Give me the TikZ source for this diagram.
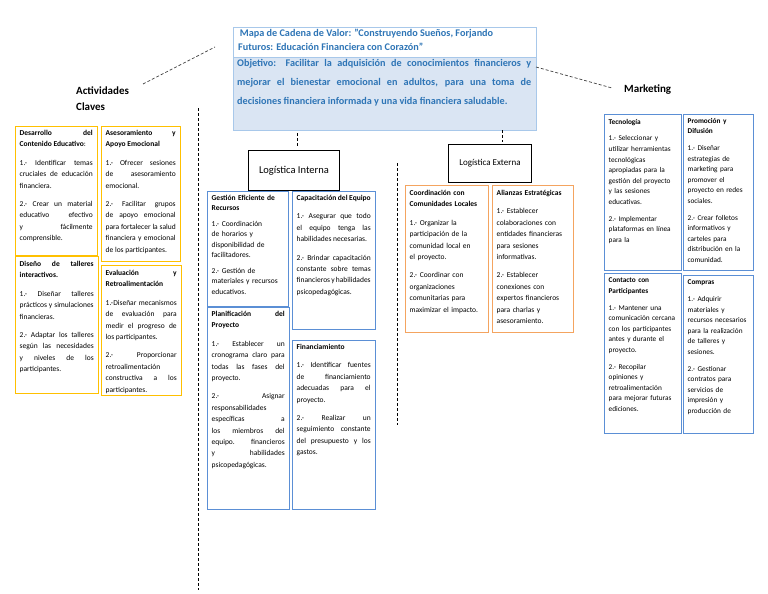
\documentclass[tikz,border=0pt]{standalone}
\usepackage{fontspec}
\setmainfont{Carlito}
\hyphenpenalty=10000 \exhyphenpenalty=10000
\begin{document}
\begin{tikzpicture}[x=1pt,y=-1pt,
  bx/.style={draw=#1,line width=1pt,inner sep=0pt,anchor=north west},
  tx/.style={anchor=north west,inner sep=0pt,align=justify,font=\fontsize{7.5}{11.4}\selectfont},
  lg/.style={draw=black,line width=0.9pt,inner sep=0pt,anchor=north west,font=\fontsize{10.5}{12}\selectfont},
  dl/.style={densely dashed,line width=0.7pt,black!75}]
\definecolor{yel}{HTML}{FFC000}\definecolor{blu}{HTML}{5B8FD5}\definecolor{ora}{HTML}{F4A460}
\definecolor{tit}{HTML}{2E75B6}\definecolor{lb}{HTML}{DAE5F3}\definecolor{lbb}{HTML}{A8C8EA}
\useasboundingbox (0,0) rectangle (768,594);
% title
\node[draw=lbb,fill=white,line width=0.8pt,minimum width=303pt,minimum height=30pt,inner sep=0pt,anchor=north west] (t1) at (233,27) {};
\node[draw=lbb,fill=lb,line width=0.8pt,minimum width=303pt,minimum height=73pt,inner sep=0pt,anchor=north west] (t2) at (233,57) {};
\node[anchor=north west,inner sep=0pt,text=tit,font=\bfseries\fontsize{10.2}{14}\selectfont,align=left] (tt) at (238,29) {\,Mapa de Cadena de Valor: "Construyendo Sueños, Forjando\\Futuros: Educación Financiera con Corazón"};
\node[anchor=north west,inner sep=0pt,text=tit,font=\bfseries\fontsize{10.2}{19}\selectfont,align=justify,text width=294pt] (to) at (237,59) {Objetivo: Facilitar la adquisición de conocimientos financieros y mejorar el bienestar emocional en adultos, para una toma de decisiones financiera informada y una vida financiera saludable.};
% headings
\node[anchor=north west,inner sep=0pt,font=\bfseries\fontsize{11}{16}\selectfont,align=left] (ac) at (76,87) {Actividades\\Claves};
\node[anchor=north west,inner sep=0pt,font=\bfseries\fontsize{11}{12}\selectfont] (mk) at (624,85) {Marketing};
\coordinate (d1a) at (143,84); \coordinate (d1b) at (215,47);
\coordinate (d2a) at (536,67); \coordinate (d2b) at (612,88);
\draw[dl] (d1a)--(d1b); \draw[dl] (d2a)--(d2b);
\draw[densely dashed,line width=0.6pt] (198,108)--(198,590);
\draw[densely dashed,line width=0.6pt] (297,133)--(297,146);
\draw[densely dashed,line width=0.6pt] (502,130)--(502,142);
\draw[densely dashed,line width=0.6pt] (397,163)--(397,425);
\draw[densely dashed,line width=0.6pt] (604,163)--(604,200);
\node[lg,minimum width=91pt,minimum height=40pt] (li) at (248,150) {Logística Interna};
\node[lg,minimum width=83pt,minimum height=38pt,font=\fontsize{9}{10}\selectfont] (le) at (448,144) {Logística Externa};
\newcommand{\bxx}[9]{\node[bx=#1,minimum width=#4pt,minimum height=#5pt] (#6) at (#2,#3) {};
 \node[tx,#8,text width=#4pt-9pt] (#6t) at ([xshift=4.5pt,yshift=-#7pt]#6.north west) {#9};}
% yellow
\bxx{yel}{15}{126}{82}{129}{a1}{4}{}{\textbf{Desarrollo del Contenido Educativo}:\\[7pt]1.- Identificar temas cruciales de educación financiera.\\[7pt]2.- Crear un material educativo efectivo y fácilmente comprensible.}
\bxx{yel}{101}{126}{79}{135}{a2}{4}{}{\textbf{Asesoramiento y Apoyo Emocional}\\[7pt]1.- Ofrecer sesiones de asesoramiento emocional.\\[7pt]2.- Facilitar grupos de apoyo emocional para fortalecer la salud financiera y emocional de los participantes.}
\bxx{yel}{15}{256}{83}{137}{a3}{5}{}{\textbf{Diseño de talleres interactivos.}\\[7pt]1.- Diseñar talleres prácticos y simulaciones financieras.\\[7pt]2.- Adaptar los talleres según las necesidades y niveles de los participantes.}
\bxx{yel}{101}{265}{80}{130}{a4}{5}{}{\textbf{Evaluación y Retroalimentación}\\[7pt]1.-Diseñar mecanismos de evaluación para medir el progreso de los participantes.\\[7pt]2.- Proporcionar retroalimentación constructiva a los participantes.}
% blue interna
\bxx{blu}{207}{191}{81}{115}{b1}{4}{align=left,font=\fontsize{7.5}{10.5}\selectfont}{\textbf{Gestión Eficiente de Recursos}\\[5pt]1.- Coordinación de horarios y disponibilidad de facilitadores.\\[5pt]2.- Gestión de materiales y recursos educativos.}
\bxx{blu}{292}{191}{83}{138}{b2}{4}{}{\textbf{Capacitación del Equipo}\\[7pt]1.- Asegurar que todo el equipo tenga las habilidades necesarias.\\[7pt]2.- Brindar capacitación constante sobre temas financieros y habilidades psicopedagógicas.}
\bxx{blu}{207}{307}{82}{202}{b3}{4}{}{\textbf{Planificación del Proyecto}\\[7pt]1.- Establecer un cronograma claro para todas las fases del proyecto.\\[7pt]2.- Asignar responsabilidades específicas a los miembros del equipo. financieros y habilidades psicopedagógicas.}
\bxx{blu}{292}{340}{83}{169}{b4}{4}{}{\textbf{Financiamiento}\\[7pt]1.- Identificar fuentes de financiamiento adecuadas para el proyecto.\\[7pt]2.- Realizar un seguimiento constante del presupuesto y los gastos.}
% orange
\bxx{ora}{405}{185}{83}{147}{c1}{5}{align=left}{\textbf{Coordinación con Comunidades Locales}\\[7pt]1.- Organizar la participación de la comunidad local en el proyecto.\\[7pt]2.- Coordinar con organizaciones comunitarias para maximizar el impacto.}
\bxx{ora}{492}{185}{81}{147}{c2}{5}{align=left}{\textbf{Alianzas Estratégicas}\\[7pt]1.- Establecer colaboraciones con entidades financieras para sesiones informativas.\\[7pt]2.- Establecer conexiones con expertos financieros para charlas y asesoramiento.}
% marketing
\bxx{blu}{604}{114}{77}{156}{m1}{5}{align=left,font=\fontsize{7.3}{10.6}\selectfont}{\textbf{Tecnología}\\[6pt]1.- Seleccionar y utilizar herramientas tecnológicas apropiadas para la gestión del proyecto y las sesiones educativas.\\[6pt]2.- Implementar plataformas en línea para la}
\bxx{blu}{683}{114}{70}{156}{m2}{4}{align=left,font=\fontsize{7.3}{10.6}\selectfont}{\textbf{Promoción y Difusión}\\[6pt]1.- Diseñar estrategias de marketing para promover el proyecto en redes sociales.\\[6pt]2.- Crear folletos informativos y carteles para distribución en la comunidad.}
\bxx{blu}{604}{273}{77}{160}{m3}{5}{align=left,font=\fontsize{7.3}{10.6}\selectfont}{\textbf{Contacto con Participantes}\\[6pt]1.- Mantener una comunicación cercana con los participantes antes y durante el proyecto.\\[6pt]2.- Recopilar opiniones y retroalimentación para mejorar futuras ediciones.}
\bxx{blu}{683}{275}{70}{158}{m4}{5}{align=left,font=\fontsize{7.3}{10.6}\selectfont}{\textbf{Compras}\\[6pt]1.- Adquirir materiales y recursos necesarios para la realización de talleres y sesiones.\\[6pt]2.- Gestionar contratos para servicios de impresión y producción de}
\end{tikzpicture}
\end{document}
